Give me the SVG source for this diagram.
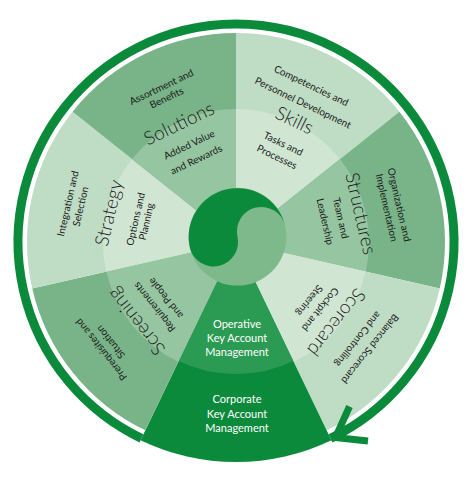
<svg xmlns="http://www.w3.org/2000/svg" width="474" height="477" viewBox="0 0 474 477">
<style>
.lo{fill:#bfdcc4}.li{fill:#d0e6d3}.mo{fill:#79b388}.mi{fill:#96c6a1}
.t{font-family:Lato,"Open Sans",sans-serif;font-size:10px;fill:#1b1b1b;text-anchor:middle}
.h{font-family:Lato,"Open Sans",sans-serif;font-size:19px;font-weight:300;fill:#1b1b1b;text-anchor:middle}
.w{font-family:Lato,"Open Sans",sans-serif;font-size:11px;fill:#ffffff;text-anchor:middle}
.ring{fill:none;stroke:#0b8a3b;stroke-width:9}
.arrow{fill:none;stroke:#0b8a3b;stroke-width:7;stroke-linejoin:miter}
</style>
<rect width="474" height="477" fill="#ffffff"/>

<g id="skills">
<path class="lo" d="M236,242 L236,33 A209,209 0 0 1 399.40,111.69 Z"/>
<path class="li" d="M236,242 L236,109 A133,133 0 0 1 339.98,159.08 Z"/>
<g transform="rotate(25.71 236 242)">
<text class="t" x="236" y="72">Competencies and</text>
<text class="t" x="236" y="91">Personnel Development</text>
<text class="h" x="236" y="113.5">Skills</text>
<text class="t" x="236" y="136.5">Tasks and</text>
<text class="t" x="236" y="151">Processes</text>
</g>
</g>

<g id="structures">
<path class="mo" d="M236,242 L399.40,111.69 A209,209 0 0 1 439.76,288.51 Z"/>
<path class="mi" d="M236,242 L339.98,159.08 A133,133 0 0 1 365.67,271.60 Z"/>
<g transform="rotate(77.14 236 242)">
<text class="t" x="236" y="78">Organization and</text>
<text class="t" x="236" y="91">Implementation</text>
<text class="h" x="236" y="120.5">Structures</text>
<text class="t" x="236" y="138">Team and</text>
<text class="t" x="236" y="154">Leadership</text>
</g>
</g>

<g id="scorecard">
<path class="lo" d="M236,242 L439.76,288.51 A209,209 0 0 1 326.68,430.30 Z"/>
<path class="li" d="M236,242 L365.67,271.60 A133,133 0 0 1 293.71,361.83 Z"/>
<g transform="rotate(128.57 236 242)">
<text class="t" x="236" y="74">Balanced Scorecard</text>
<text class="t" x="236" y="89.5">and Controlling</text>
<text class="h" x="236" y="120">Scorecard</text>
<text class="t" x="236" y="137.5">Cockpit and</text>
<text class="t" x="236" y="151.5">Steering</text>
</g>
</g>

<g id="key-account-management">
<path fill="#0b8a3b" d="M236,242 L331.45,440.21 A220,220 0 0 1 140.55,440.21 Z"/>
<path fill="#2b9a52" d="M236,242 L293.27,360.93 A132,132 0 0 1 178.73,360.93 Z"/>
<text class="w" x="237" y="328">Operative</text>
<text class="w" x="237" y="342">Key Account</text>
<text class="w" x="237" y="356">Management</text>
<text class="w" x="237" y="403">Corporate</text>
<text class="w" x="237" y="418">Key Account</text>
<text class="w" x="237" y="432">Management</text>
</g>

<g id="screening">
<path class="mo" d="M236,242 L145.32,430.30 A209,209 0 0 1 32.24,288.51 Z"/>
<path class="mi" d="M236,242 L178.29,361.83 A133,133 0 0 1 106.33,271.60 Z"/>
<g transform="rotate(231.43 236 242)">
<text class="t" x="236" y="73">Prerequisites and</text>
<text class="t" x="236" y="85">Situation</text>
<text class="h" x="236" y="121">Screening</text>
<text class="t" x="236" y="141">Requirements</text>
<text class="t" x="236" y="155.5">and People</text>
</g>
</g>

<g id="strategy">
<path class="lo" d="M236,242 L32.24,288.51 A209,209 0 0 1 72.60,111.69 Z"/>
<path class="li" d="M236,242 L106.33,271.60 A133,133 0 0 1 132.02,159.08 Z"/>
<g transform="rotate(-77.14 236 242)">
<text class="t" x="236" y="73">Integration and</text>
<text class="t" x="236" y="86">Selection</text>
<text class="h" x="236" y="118">Strategy</text>
<text class="t" x="236" y="142.5">Options and</text>
<text class="t" x="236" y="153.5">Planning</text>
</g>
</g>

<g id="solutions">
<path class="mo" d="M236,242 L72.60,111.69 A209,209 0 0 1 236,33 Z"/>
<path class="mi" d="M236,242 L132.02,159.08 A133,133 0 0 1 236,109 Z"/>
<g transform="rotate(-25.71 236 242)">
<text class="t" x="236" y="73.5">Assortment and</text>
<text class="t" x="236" y="85.5">Benefits</text>
<text class="h" x="236" y="117">Solutions</text>
<text class="t" x="236" y="137.5">Added Value</text>
<text class="t" x="236" y="154">and Rewards</text>
</g>
</g>

<g id="hub">
<circle cx="237.5" cy="236.7" r="48.9" fill="#7db98b"/>
<path fill="#0b8a3b" d="M190,248.3 A48.91,48.91 0 0 1 285,225 A24.46,24.46 0 0 0 237.5,236.65 A24.46,24.46 0 0 1 190,248.3 Z"/>
</g>

<g id="connectors">
<path class="ring" d="M141.41,438.41 A218,218 0 1 1 330.59,438.41"/>
<path class="arrow" d="M349.5,406.5 L335.5,437.5 L368,441"/>
</g>
</svg>
